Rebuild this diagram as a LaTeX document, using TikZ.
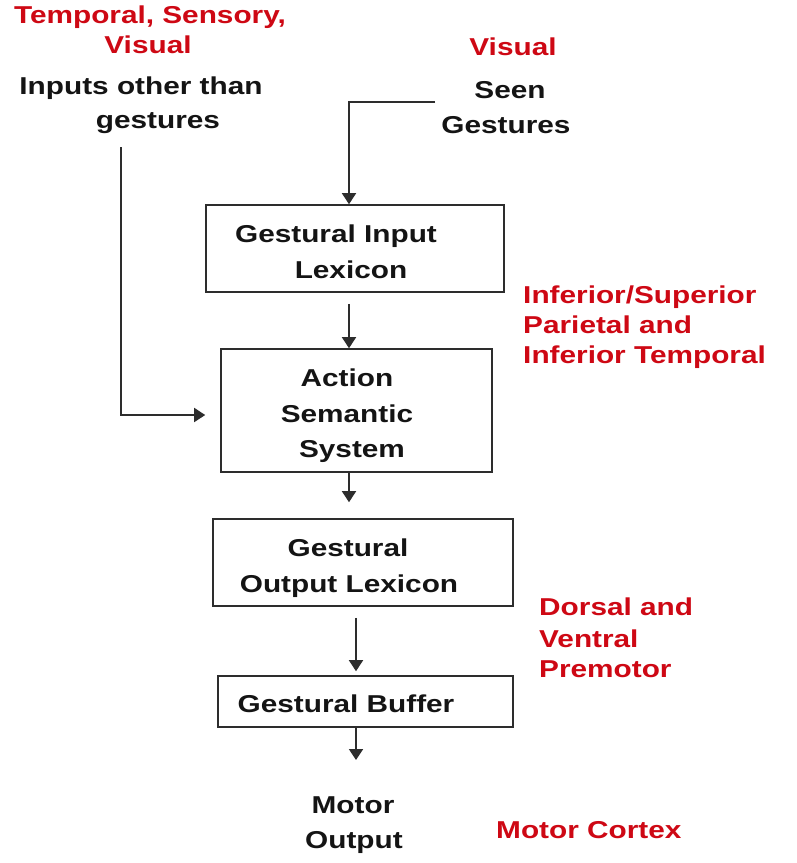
\documentclass[tikz,border=0pt]{standalone}
\usepackage{fontspec}
\setmainfont{Liberation Sans}
\usetikzlibrary{arrows.meta}
\definecolor{lbl}{RGB}{206,8,20}
\definecolor{lnc}{RGB}{45,45,45}
\definecolor{txc}{RGB}{20,20,20}
\begin{document}
\begin{tikzpicture}[x=1pt,y=-1pt,
  txt/.style={font=\fontsize{24.4}{30}\selectfont\bfseries, text=txc, inner sep=0pt, xscale=1.22, anchor=base},
  redc/.style={txt, text=lbl},
  redl/.style={redc, anchor=base west},
  box/.style={draw=lnc, line width=1.6pt, inner sep=0pt},
  arr/.style={draw=lnc, line width=1.8pt, -{Triangle[length=11pt,width=14pt]}}]
\useasboundingbox[fill=white] (0,0) rectangle (796,863);

% boxes
\node[box, minimum width=298pt, minimum height=87pt] (b1) at (355,248.5) {};
\node[box, minimum width=271pt, minimum height=123pt] (b2) at (356.5,410.5) {};
\node[box, minimum width=300pt, minimum height=87pt] (b3) at (363,562.5) {};
\node[box, minimum width=295pt, minimum height=51pt] (b4) at (365.5,701.5) {};

% texts
\node[redc] (t1) at (150,23) {Temporal, Sensory,};
\node[redc] (t2) at (148,53) {Visual};
\node[txt] (i1) at (141,94) {Inputs other than};
\node[txt] (i2) at (158,128) {gestures};
\node[redc] (v1) at (513,55) {Visual};
\node[txt] (s1) at (510,98) {Seen};
\node[txt] (s2) at (506,133) {Gestures};
\node[txt] (g1) at (336,242) {Gestural Input};
\node[txt] (g2) at (351,278) {Lexicon};
\node[txt] (a1) at (347,386) {Action};
\node[txt] (a2) at (347,422) {Semantic};
\node[txt] (a3) at (352,457) {System};
\node[txt] (o1) at (348,556) {Gestural};
\node[txt] (o2) at (349,592) {Output Lexicon};
\node[txt] (bf) at (346,712) {Gestural Buffer};
\node[txt] (m1) at (353,813) {Motor};
\node[txt] (m2) at (354,848) {Output};
\node[redl] (r1) at (523,303) {Inferior/Superior};
\node[redl] (r2) at (523,333) {Parietal and};
\node[redl] (r3) at (523,363) {Inferior Temporal};
\node[redl] (d1) at (539,615) {Dorsal and};
\node[redl] (d2) at (539,647) {Ventral};
\node[redl] (d3) at (539,677) {Premotor};
\node[redl] (mc) at (496,838) {Motor Cortex};

% connectors
\coordinate (sg) at (435,102);
\coordinate (ig) at (121,147);
\coordinate (mo) at (356,760);
\draw[arr] (sg) -| ([xshift=-6pt]b1.north);
\draw[arr, shorten <=11pt] ([xshift=-6pt]b1.south) -- ([xshift=-7.5pt]b2.north);
\draw[arr] (ig) |- ([xshift=-15pt,yshift=-4.5pt]b2.west);
\draw[arr, shorten >=16pt] ([xshift=-7.5pt]b2.south) -- ([xshift=-14pt]b3.north);
\draw[arr, shorten <=11pt, shorten >=4pt] ([xshift=-7pt]b3.south) -- ([xshift=-9.5pt]b4.north);
\draw[arr] ([xshift=-9.5pt]b4.south) -- (mo);
\end{tikzpicture}
\end{document}
